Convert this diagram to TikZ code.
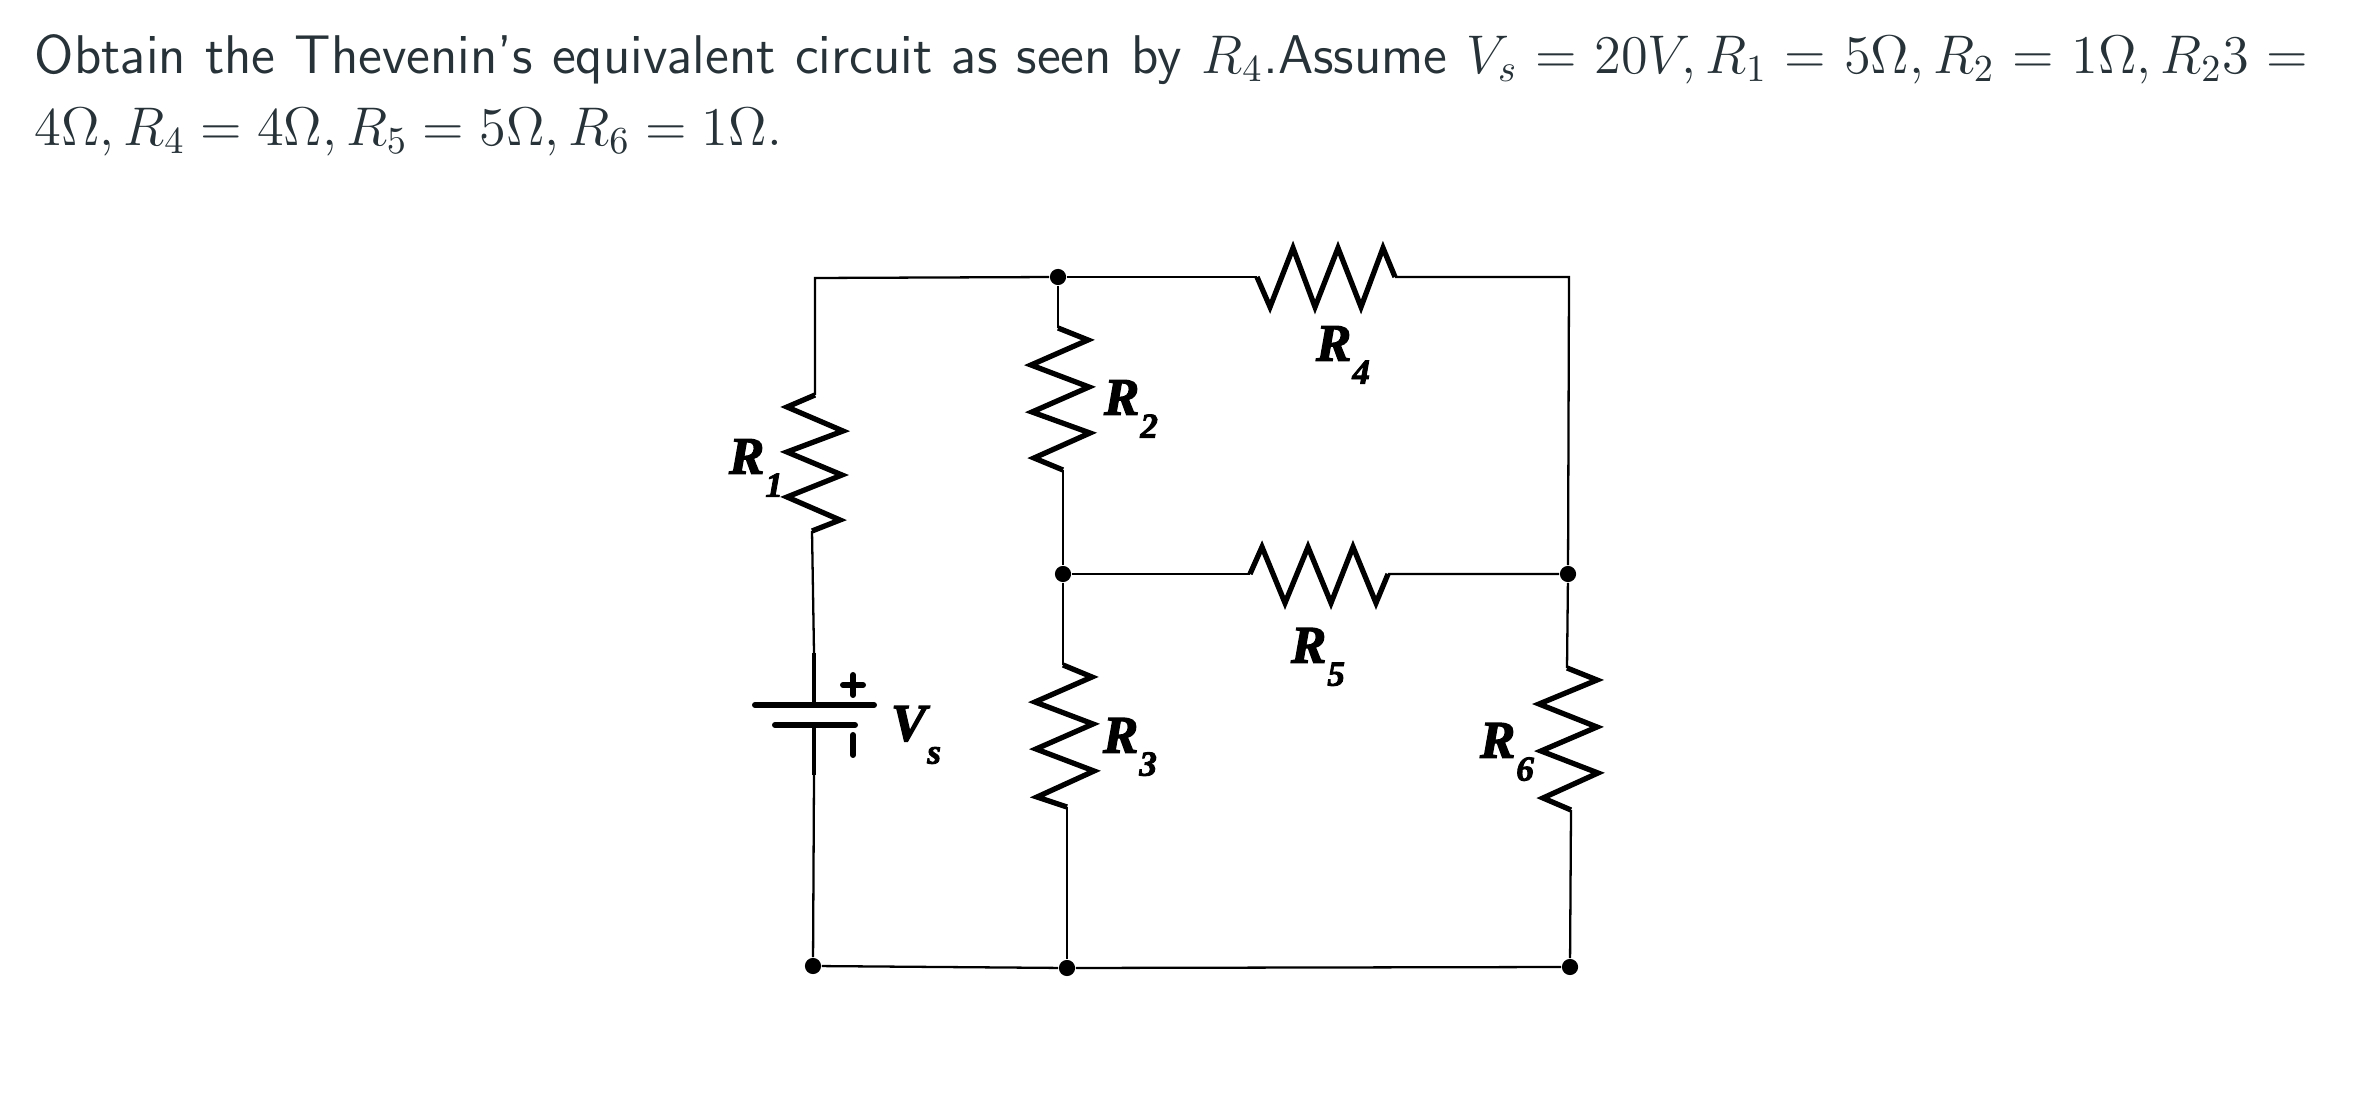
\documentclass[tikz,border=0pt]{standalone}
\usepackage{fix-cm}
\usepackage{fontspec}
\newfontfamily\labelfont{Liberation Serif}[BoldItalicFeatures={FakeBold=2.5}]
\font\questionfont=cmss12 at 15.5pt
\definecolor{textcol}{HTML}{263238}
\newcommand{\rlabel}[2]{{\labelfont\bfseries\itshape #1\kern0.02em\raisebox{-0.95ex}{\fontsize{10}{10}\selectfont #2}}}
\tikzset{
	wire/.style = {black, line width=0.65pt},
	zigzag/.style = {black, line width=1.5pt, line join=miter},
	stem/.style = {black, line width=1.4pt},
	plate/.style = {black, line width=1.7pt, line cap=round},
	junction/.style = {shape = circle, fill = black, inner sep = 0pt, minimum size = 4.6pt},
	reslabel/.style = {inner sep = 0pt, font = \fontsize{15}{15}\selectfont}
}
\begin{document}
\begin{tikzpicture}[x=0.01cm, y=-0.01cm]
	\useasboundingbox (0,0) rectangle (2358,1107);
	\node[anchor=north west, inner sep=0pt, text width=22.72cm, align=justify, text=textcol, font=\fontsize{15.5}{20.5}\selectfont\questionfont] (question) at (34,35) {Obtain the Thevenin's equivalent circuit as seen by $R_4$.Assume $V_s=20V,R_1=5\Omega,R_2=1\Omega,R_23=4\Omega,R_4=4\Omega,R_5=5\Omega,R_6=1\Omega.$};

	% junctions
	\node[junction] (ntop) at (1058,277) {};
	\node[junction] (nmidl) at (1063,574) {};
	\node[junction] (nmidr) at (1568,574) {};
	\node[junction] (nbotl) at (813,966) {};
	\node[junction] (nbotm) at (1067,968) {};
	\node[junction] (nbotr) at (1570,967) {};
	\coordinate (ctl) at (815,278);
	\coordinate (ctr) at (1569,277);

	% ends of the resistors
	\coordinate (r1a) at (815,395);
	\coordinate (r1b) at (812,531);
	\coordinate (r2a) at (1058,328);
	\coordinate (r2b) at (1063,470);
	\coordinate (r3a) at (1063,665);
	\coordinate (r3b) at (1067,807);
	\coordinate (r4a) at (1257,277);
	\coordinate (r4b) at (1395,277);
	\coordinate (r5a) at (1250,574);
	\coordinate (r5b) at (1388,574);
	\coordinate (r6a) at (1567,668);
	\coordinate (r6b) at (1571,810);
	\coordinate (vtop) at (814,653);
	\coordinate (vbot) at (814,775);
	\coordinate (vplus) at (814,705);
	\coordinate (vminus) at (814,725);

	% wires
	\draw[wire] (ntop) -- (ctl) -- (r1a);
	\draw[wire] (r1b) -- (vtop);
	\draw[wire] (vbot) -- (nbotl) -- (nbotm) -- (nbotr);
	\draw[wire] (ntop) -- (r2a);
	\draw[wire] (r2b) -- (nmidl) -- (r3a);
	\draw[wire] (r3b) -- (nbotm);
	\draw[wire] (ntop) -- (r4a);
	\draw[wire] (r4b) -- (ctr) -- (nmidr);
	\draw[wire] (nmidl) -- (r5a);
	\draw[wire] (r5b) -- (nmidr) -- (r6a);
	\draw[wire] (r6b) -- (nbotr);

	% resistors
	\draw[zigzag] (r1a) -- (787,407) -- (843,431) -- (787,452) -- (842,475) -- (787,497) -- (840,520) -- (r1b);
	\draw[zigzag] (r2a) -- (1088,340) -- (1031,365) -- (1089,387) -- (1032,412) -- (1090,433) -- (1034,458) -- (r2b);
	\draw[zigzag] (r3a) -- (1092,677) -- (1035,702) -- (1093,724) -- (1036,749) -- (1094,771) -- (1037,797) -- (r3b);
	\draw[zigzag] (r4a) -- (1270,307) -- (1293,248) -- (1315,307) -- (1338,248) -- (1361,307) -- (1383,248) -- (r4b);
	\draw[zigzag] (r5a) -- (1262,547) -- (1285,603) -- (1308,547) -- (1331,603) -- (1353,547) -- (1376,603) -- (r5b);
	\draw[zigzag] (r6a) -- (1597,680) -- (1539,704) -- (1597,727) -- (1541,751) -- (1598,773) -- (1543,798) -- (r6b);

	% source
	\draw[stem] (vtop) -- (vplus);
	\draw[stem] (vminus) -- (vbot);
	\draw[plate] (755,705) -- (874,705);
	\draw[plate] (775,725) -- (855,725);
	\draw[plate] (843,685) -- (863,685);
	\draw[plate] (853,675) -- (853,695);
	\draw[plate] (853,735) -- (853,755);

	% labels
	\node[reslabel] (lr1) at (756,468) {\rlabel{R}{1}};
	\node[reslabel] (lr2) at (1131,409) {\rlabel{R}{2}};
	\node[reslabel] (lr3) at (1130,747) {\rlabel{R}{3}};
	\node[reslabel] (lr4) at (1343,355) {\rlabel{R}{4}};
	\node[reslabel] (lr5) at (1318,657) {\rlabel{R}{5}};
	\node[reslabel] (lr6) at (1507,752) {\rlabel{R}{6}};
	\node[reslabel] (lvs) at (916,735) {\rlabel{V}{s}};
\end{tikzpicture}
\end{document}
